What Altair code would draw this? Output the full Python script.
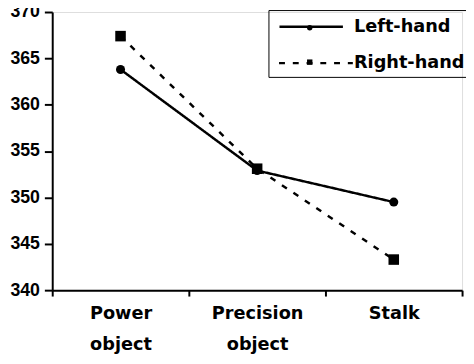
import altair as alt
import pandas as pd

categories = ["Power object", "Precision object", "Stalk"]
left_hand = [363.8, 352.9, 349.5]
right_hand = [367.4, 353.1, 343.3]
series_names = ["Left-hand", "Right-hand"]
y_ticks = [340, 345, 350, 355, 360, 365, 370]

rows = []
for c, v in zip(categories, left_hand):
    rows.append({"cond": c, "rt": v, "hand": series_names[0]})
for c, v in zip(categories, right_hand):
    rows.append({"cond": c, "rt": v, "hand": series_names[1]})
df = pd.DataFrame(rows)

FONT = "DejaVu Sans"

x_enc = alt.X(
    "cond:N",
    sort=categories,
    scale=alt.Scale(type="band", paddingInner=0, paddingOuter=0),
    axis=alt.Axis(
        title=None, labelAngle=0, tickBand="extent", tickSize=6, tickWidth=2,
        tickColor="black", domainColor="black", domainWidth=2,
        labelFont=FONT, labelFontSize=18, labelFontWeight="bold", labelColor="black",
        labelLineHeight=31, labelPadding=9, labelBaseline="top",
        labelExpr="split(datum.label, ' ')",
    ),
)
y_enc = alt.Y(
    "rt:Q",
    scale=alt.Scale(domain=[340, 370], nice=False, zero=False),
    axis=alt.Axis(
        title=None, values=y_ticks, grid=False, tickSize=8, tickWidth=2,
        tickColor="black", domainColor="black", domainWidth=2,
        labelFont="Liberation Sans", labelFontSize=18, labelFontWeight="bold",
        labelColor="black", labelPadding=5,
    ),
)

lines = alt.Chart(df).mark_line(color="black", strokeWidth=2.5).encode(
    x=x_enc,
    y=y_enc,
    strokeDash=alt.StrokeDash(
        "hand:N",
        scale=alt.Scale(domain=series_names, range=[[1, 0], [6, 8]]),
        legend=alt.Legend(
            title=" ", titleFontSize=3, titlePadding=0,
            orient="none", legendX=220, legendY=-2,
            symbolType="M-0.6,0H13.4", symbolSize=100, symbolStrokeWidth=2.5,
            symbolStrokeColor="black", strokeColor="black", padding=5,
            labelFont=FONT, labelFontSize=18, labelFontWeight="bold",
            labelColor="black", labelOffset=64, rowPadding=19,
        ),
    ),
)

points = alt.Chart(df).transform_calculate(marker="datum.hand").mark_point(
    filled=True, color="black", opacity=1
).encode(
    x=x_enc,
    y=y_enc,
    shape=alt.Shape(
        "marker:N",
        scale=alt.Scale(domain=series_names[::-1], range=["square", "circle"]),
        legend=alt.Legend(
            title=None, orient="none", legendX=252, legendY=6,
            values=series_names,
            symbolSize=30, symbolFillColor="black", symbolStrokeColor="black",
            symbolStrokeWidth=0, padding=7,
            labelExpr="''", labelFontSize=1, labelOffset=0, rowPadding=29,
        ),
    ),
    size=alt.Size(
        "hand:N",
        scale=alt.Scale(domain=series_names, range=[85, 115]),
        legend=None,
    ),
)

chart = alt.layer(lines, points).properties(
    width=417, height=283,
    autosize=alt.AutoSizeParams(type="none"),
    padding={"left": 45, "top": 1, "right": 4, "bottom": 70},
).configure_view(stroke=None).configure(background="white")

chart.save("out.html", embed_options={"renderer": "svg", "actions": False})
